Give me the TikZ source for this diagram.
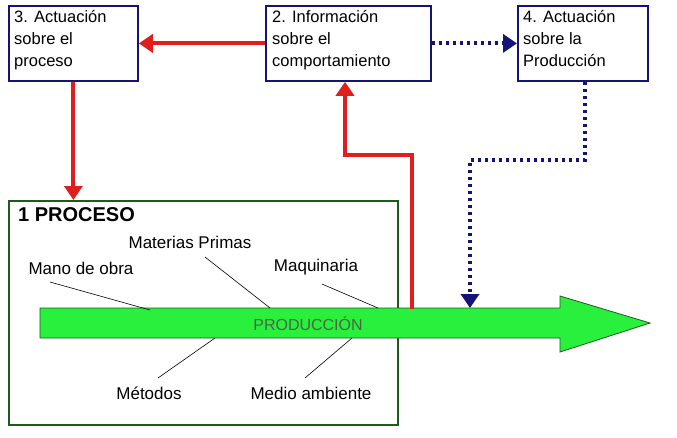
\documentclass[tikz,border=0pt]{standalone}
\usepackage{fontspec}
\setmainfont{Liberation Sans}
\usetikzlibrary{arrows.meta}
\definecolor{navy}{RGB}{20,20,120}
\definecolor{dgreen}{RGB}{30,90,30}
\definecolor{lgreen}{RGB}{40,240,60}
\definecolor{redc}{RGB}{225,30,30}
\begin{document}
\begin{tikzpicture}[x=1pt,y=-1pt,
  bx/.style={draw=navy,line width=1.8pt,anchor=north west},
  box/.style={align=left,anchor=north west,inner sep=0pt,font=\fontsize{16.5}{22}\selectfont},
  redarrow/.style={draw=redc,line width=4pt,-{Triangle[length=14pt,width=18pt]}},
  dotarrow/.style={draw=navy,line width=4pt,dash pattern=on 3.5pt off 3.5pt,-{Triangle[length=14pt,width=18pt]}},
  lab/.style={font=\fontsize{17}{19}\selectfont},
  bone/.style={draw=black,line width=0.6pt}]
\useasboundingbox (0,0) rectangle (677,437);
\fill[white] (0,0) rectangle (677,437);
\node[bx,minimum width=129pt,minimum height=75pt] (b3) at (8,5) {};
\node[box] (t3) at (14,10) {3. Actuación\\sobre el\\proceso};
\node[bx,minimum width=165pt,minimum height=75pt] (b2) at (265,5) {};
\node[box] (t2) at (272,10) {2. Información\\sobre el\\comportamiento};
\node[bx,minimum width=130pt,minimum height=75pt] (b4) at (517,5) {};
\node[box] (t4) at (523,10) {4. Actuación\\sobre la\\Producción};
\node[draw=dgreen,line width=1.8pt,minimum width=389pt,minimum height=224pt,anchor=north west] (pr) at (8,200) {};
\node[anchor=north west,inner sep=0pt,font=\fontsize{20}{22}\selectfont\bfseries] (t1) at (18,207) {1 PROCESO};
% big arrow
\draw[dgreen,line width=0.8pt,fill=lgreen] (40,308) -- (560,308) -- (560,296) -- (650,323) -- (560,352) -- (560,338) -- (40,338) -- cycle;
\node[font=\fontsize{16}{18}\selectfont,text=dgreen!60!gray] (prod) at (308,324) {PRODUCCIÓN};
\coordinate (a1) at (412,309);
\coordinate (a2) at (470,308);
% bones
\node[lab] (mo) at (81,268) {Mano de obra};
\node[lab] (mp) at (190,242) {Materias Primas};
\node[lab] (mq) at (316,267) {Maquinaria};
\node[lab] (me) at (149,393) {Métodos};
\node[lab] (ma) at (311,393) {Medio ambiente};
\draw[bone] (50,282) -- (150,310);
\draw[bone] (205,257) -- (270,308);
\draw[bone] (322,284) -- (378,308);
\draw[bone] (158,378) -- (215,338);
\draw[bone] (305,378) -- (352,338);
% red arrows
\draw[redarrow] (b2.west) -- (b3.east);
\draw[redarrow] (b3.south) -- (pr.north west -| b3.south);
\draw[redarrow] (a1) -- (412,155) -- (345,155) -- (b2.south -| 345,0);
% dotted arrows
\draw[dotarrow] (b2.east) -- (b4.west);
\draw[dotarrow] (b4.south -| 585,0) -- (585,160) -- (470,160) -- (a2);
\end{tikzpicture}
\end{document}
